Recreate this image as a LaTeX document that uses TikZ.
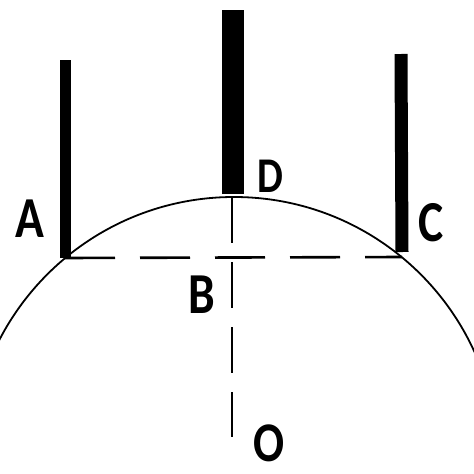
\documentclass[tikz,border=0pt]{standalone}
\usepackage{fontspec}
\setmainfont{Carlito}
\begin{document}
\begin{tikzpicture}[x=1pt,y=-1pt,
  lbl/.style={inner sep=0pt,font=\fontsize{58}{58}\selectfont\bfseries},
  bar/.style={line width=#1,line cap=butt},
  arcline/.style={line width=1.8pt},
  dashline/.style={line width=2.6pt}]
\useasboundingbox (0,0) rectangle (474,474);
% key points
\coordinate (A) at (65,258);
\coordinate (C) at (402,257);
\coordinate (D) at (232,197);
\coordinate (Ob) at (232,437);
\coordinate (Atop) at (65,60);
\coordinate (Ctop) at (401,54);
\coordinate (Dtop) at (233,10);
\coordinate (Dbot) at (233,194);
\coordinate (Ctr) at (234,461);
% arc of the circle
\begin{scope}
\clip (0,0) rectangle (474,474);
\draw[arcline] (Ctr) circle [radius=264];
\end{scope}
% dashed lines
\draw[dashline,dash pattern=on 50pt off 25pt] (A) -- (C);
\draw[dashline,line width=2.4pt,dash pattern=on 46pt off 19pt] (D) -- (Ob);
% rods
\draw[bar=11pt] (A) -- (Atop);
\draw[bar=13pt] (402,252) -- (Ctop);
\draw[bar=22pt] (Dbot) -- (Dtop);
% labels
\node[lbl] (la) at (30,219) {\scalebox{0.82}[1]{A}};
\node[lbl] (lb) at (202,295) {\scalebox{0.82}[1]{B}};
\node[lbl] (lc) at (431,223) {\scalebox{0.82}[1]{C}};
\node[lbl,font=\fontsize{50}{50}\selectfont\bfseries] (ld) at (270,176) {\scalebox{0.82}[1]{D}};
\node[lbl,font=\fontsize{56}{56}\selectfont\bfseries] (lo) at (269,443) {\scalebox{0.82}[1]{O}};
\end{tikzpicture}
\end{document}
